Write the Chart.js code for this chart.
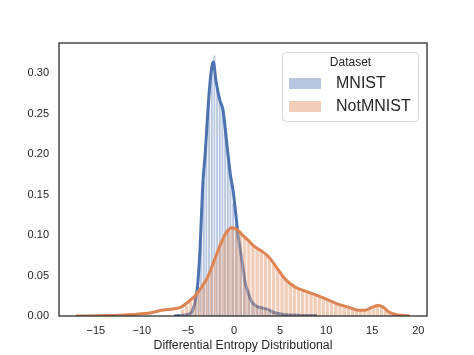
<!DOCTYPE html>
<html>
<head>
<meta charset="utf-8">
<script src="https://cdn.jsdelivr.net/npm/chart.js@4"></script>
<style>
html,body{margin:0;padding:0;background:#fff;}
#wrap{width:474px;height:355px;position:relative;}
</style>
</head>
<body>
<div id="wrap"><canvas id="c" width="474" height="355"></canvas></div>
<script>
// ---- data ----
const seriesNames = ["MNIST", "NotMNIST"];
const legendTitle = "Dataset";
const xAxisTitle = "Differential Entropy Distributional";
const xTicks = [-15, -10, -5, 0, 5, 10, 15, 20];
const yTicks = [0.00, 0.05, 0.10, 0.15, 0.20, 0.25, 0.30];

// histogram bins: left edge of first bin and bin width
const mnistBinStart = -5.2;
const mnistBinWidth = 0.29;
const mnistHist = [
  0.002, 0.004, 0.012, 0.026, 0.050, 0.092, 0.165, 0.212, 0.262, 0.305,
  0.322, 0.290, 0.270, 0.258, 0.240, 0.203, 0.172, 0.140, 0.114, 0.098,
  0.080, 0.052, 0.036, 0.025, 0.017, 0.013, 0.011, 0.010, 0.009, 0.008,
  0.006, 0.005, 0.004, 0.003, 0.003, 0.002, 0.002, 0.002, 0.002, 0.001,
  0.001, 0.001, 0.001, 0.001, 0.001, 0.001, 0.001, 0.001, 0.001
];
const notmnistBinStart = -5.85;
const notmnistBinWidth = 0.45;
const notmnistHist = [
  0.008, 0.013, 0.018, 0.024, 0.031, 0.039, 0.047, 0.060, 0.073, 0.086,
  0.096, 0.106, 0.111, 0.108, 0.103, 0.098, 0.093, 0.088, 0.084, 0.081,
  0.077, 0.072, 0.066, 0.058, 0.051, 0.045, 0.040, 0.037, 0.034, 0.032,
  0.030, 0.028, 0.026, 0.024, 0.022, 0.020, 0.017, 0.015, 0.013, 0.012,
  0.010, 0.009, 0.008, 0.007, 0.007, 0.009, 0.012, 0.015, 0.013, 0.008,
  0.004, 0.002, 0.001
];

// KDE curves (x, density)
const mnistKdeX = [-6.5, -5.5, -5.0, -4.5, -4.0, -3.7, -3.4, -3.1, -2.86, -2.55, -2.25, -1.95, -1.5, -1.2, -0.8, -0.4, -0.1, 0.2, 0.4, 0.7, 0.95, 1.2, 1.5, 1.85, 2.3, 3.0, 3.7, 4.4, 5.4, 7.0, 9.0];
const mnistKdeY = [0.000, 0.001, 0.002, 0.007, 0.033, 0.080, 0.160, 0.205, 0.250, 0.295, 0.314, 0.290, 0.265, 0.255, 0.215, 0.175, 0.155, 0.125, 0.104, 0.080, 0.062, 0.042, 0.030, 0.019, 0.013, 0.010, 0.008, 0.004, 0.002, 0.001, 0.0005];
const notmnistKdeX = [-17.2, -14, -11, -9, -7.9, -6.5, -5.76, -4.9, -4.3, -3.5, -2.86, -2.1, -1.41, -0.8, -0.2, 0.4, 1.0, 1.5, 2.2, 2.9, 3.5, 4.0, 4.8, 5.6, 6.6, 8.2, 9.9, 11.2, 12.4, 13.5, 14.2, 15.0, 15.7, 16.2, 16.8, 17.5, 18.2, 19.1];
const notmnistKdeY = [0.000, 0.0005, 0.002, 0.004, 0.007, 0.009, 0.011, 0.018, 0.024, 0.036, 0.048, 0.070, 0.090, 0.104, 0.109, 0.106, 0.099, 0.094, 0.086, 0.081, 0.076, 0.070, 0.057, 0.045, 0.036, 0.029, 0.0215, 0.015, 0.011, 0.007, 0.007, 0.011, 0.013, 0.011, 0.005, 0.002, 0.0008, 0.000];

// ---- styles ----
const BLUE = "#4c72b0", ORANGE = "#dd8452";
const BLUE_FILL = "rgba(76,114,176,0.4)", ORANGE_FILL = "rgba(221,132,82,0.4)";
const INK = "#262626";
const FONT = "'Liberation Sans', Arial, sans-serif";

function histPoints(start, width, vals) {
  return vals.map((v, i) => ({ x: start + width * (i + 0.5), y: v }));
}
function kdePoints(xs, ys) { return xs.map((x, i) => ({ x: x, y: ys[i] })); }

const framePlugin = {
  id: "frame",
  afterDatasetsDraw(chart) {
    const { ctx, chartArea: a } = chart;
    ctx.save();
    ctx.strokeStyle = INK;
    ctx.lineWidth = 1.25;
    ctx.strokeRect(a.left, a.top, a.right - a.left, a.bottom - a.top);
    ctx.restore();
  }
};

const legendPlugin = {
  id: "boxLegend",
  afterDraw(chart) {
    const { ctx, chartArea: a } = chart;
    const w = 136, h = 69;
    const x0 = a.right - 9 - w, y0 = a.top + 9;
    ctx.save();
    ctx.beginPath();
    if (ctx.roundRect) ctx.roundRect(x0 + 0.5, y0 + 0.5, w, h, 4); else ctx.rect(x0 + 0.5, y0 + 0.5, w, h);
    ctx.fillStyle = "rgba(255,255,255,0.8)";
    ctx.fill();
    ctx.strokeStyle = "#d6d6d6";
    ctx.lineWidth = 1;
    ctx.stroke();
    ctx.fillStyle = INK;
    ctx.textBaseline = "middle";
    ctx.textAlign = "center";
    ctx.font = "12px " + FONT;
    ctx.fillText(legendTitle, x0 + w / 2 + 0.5, y0 + 10.5);
    const fills = [BLUE_FILL, ORANGE_FILL];
    const rows = [y0 + 31.5, y0 + 54.5];
    ctx.textAlign = "left";
    ctx.font = "16px " + FONT;
    seriesNames.forEach((n, i) => {
      ctx.fillStyle = fills[i];
      ctx.fillRect(x0 + 7, rows[i] - 5.5, 32, 11);
      ctx.fillStyle = INK;
      ctx.fillText(n, x0 + 54, rows[i]);
    });
    ctx.restore();
  }
};

const ctx = document.getElementById("c").getContext("2d");
new Chart(ctx, {
  type: "bar",
  data: {
    datasets: [
      { type: "line", label: seriesNames[1] + " KDE", data: kdePoints(notmnistKdeX, notmnistKdeY), xAxisID: "x",
        borderColor: ORANGE, borderWidth: 3, pointRadius: 0, fill: false, cubicInterpolationMode: "monotone", order: 0 },
      { type: "bar", label: seriesNames[1], data: histPoints(notmnistBinStart, notmnistBinWidth, notmnistHist), xAxisID: "x2",
        backgroundColor: ORANGE_FILL, borderColor: "rgba(255,255,255,0.35)", borderWidth: { left: 1, right: 0, top: 0, bottom: 0 },
        borderSkipped: false, categoryPercentage: 1, barPercentage: 1, grouped: false, order: 1 },
      { type: "line", label: seriesNames[0] + " KDE", data: kdePoints(mnistKdeX, mnistKdeY), xAxisID: "x",
        borderColor: BLUE, borderWidth: 3, pointRadius: 0, fill: false, cubicInterpolationMode: "monotone", order: 2 },
      { type: "bar", label: seriesNames[0], data: histPoints(mnistBinStart, mnistBinWidth, mnistHist), xAxisID: "x3",
        backgroundColor: BLUE_FILL, borderColor: "rgba(255,255,255,0.35)", borderWidth: { left: 1, right: 0, top: 0, bottom: 0 },
        borderSkipped: false, categoryPercentage: 1, barPercentage: 1, grouped: false, order: 3 }
    ]
  },
  options: {
    responsive: false,
    animation: false,
    events: [],
    layout: { padding: { left: 0, right: 47, top: 43, bottom: 0 } },
    plugins: { legend: { display: false }, tooltip: { enabled: false } },
    scales: {
      x: {
        type: "linear", min: -19.0, max: 20.95, offset: false,
        grid: { display: false, drawTicks: false },
        border: { display: false },
        afterFit: s => { s.height = 39; },
        afterBuildTicks: s => { s.ticks = xTicks.map(v => ({ value: v })); },
        ticks: { padding: 8, color: INK, font: { family: FONT, size: 11 }, maxRotation: 0,
          callback: v => (v < 0 ? "\u2212" + Math.abs(v) : String(v)) },
        title: { display: true, text: xAxisTitle, color: INK, font: { family: FONT, size: 12.3 }, padding: { top: 0, bottom: 2 } }
      },
      x2: { type: "linear", min: -19.0, max: 20.95, offset: false, display: false },
      x3: { type: "linear", min: -19.0, max: 20.95, offset: false, display: false },
      y: {
        min: 0, max: 0.3375,
        grid: { display: false, drawTicks: false },
        border: { display: false },
        afterFit: s => { s.width = 59; },
        afterBuildTicks: s => { s.ticks = yTicks.map(v => ({ value: v })); },
        ticks: { padding: 10, color: INK, font: { family: FONT, size: 11 }, callback: v => Number(v).toFixed(2) }
      }
    }
  },
  plugins: [framePlugin, legendPlugin]
});
</script>
</body>
</html>
